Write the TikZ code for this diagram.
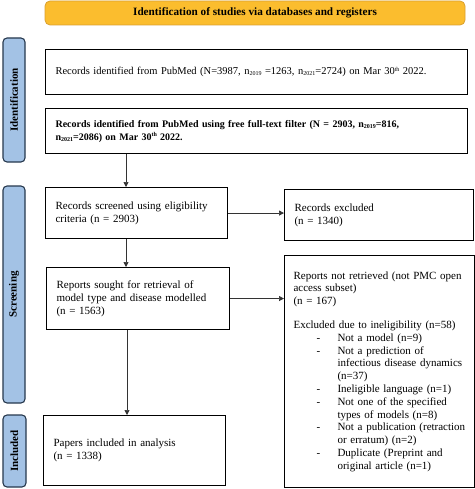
\documentclass[tikz,border=0pt]{standalone}
\usepackage{fontspec}
\setmainfont{Liberation Serif}
\usetikzlibrary{arrows.meta,positioning}
\definecolor{bannerfill}{HTML}{FBBD2E}
\definecolor{bannerdraw}{HTML}{D9A030}
\definecolor{sidefill}{HTML}{A3C2E5}
\definecolor{sidedraw}{HTML}{26384D}
\definecolor{arrowc}{HTML}{333333}
\newcommand\itm[1]{\makebox[44pt][l]{\hspace{23pt}-}#1}
\newcommand\cnt[1]{\hspace*{44pt}#1}
\newcommand\sbs[1]{\raisebox{-1.2pt}{\fontsize{6}{7}\selectfont #1}}
\newcommand\sps[1]{\raisebox{3.5pt}{\fontsize{6}{7}\selectfont #1}}
\tikzset{
  stagebox/.style={draw=black, line width=1.1pt, fill=white, anchor=north west,
    inner xsep=9pt, inner ysep=2pt, align=left,
    font=\fontsize{11}{12.8}\selectfont},
  sidebox/.style={draw=sidedraw, line width=1.1pt, fill=sidefill, rounded corners=4pt,
    rotate=90, inner sep=0pt, font=\fontsize{11}{13}\selectfont\bfseries},
  banner/.style={draw=bannerdraw, line width=0.8pt, fill=bannerfill, rounded corners=5pt,
    inner sep=0pt, font=\fontsize{11.2}{13}\selectfont\bfseries},
  arr/.style={draw=arrowc, line width=0.7pt, -{Triangle[length=5pt,width=5pt]}}
}
\begin{document}
\begin{tikzpicture}[x=1pt,y=-1pt]
\useasboundingbox (0,0) rectangle (474,489);
% banner
\node[banner, minimum width=420, minimum height=24] (ban) at (255,13) {Identification of studies via databases and registers};
% side labels
\node[sidebox, minimum width=124, minimum height=22] (sid) at (14,100) {Identification};
\node[sidebox, minimum width=217, minimum height=22] (ssc) at (14,294.5) {Screening};
\node[sidebox, minimum width=72, minimum height=23] (sin) at (14.5,451) {Included};
% identification boxes
\node[stagebox, minimum width=422, minimum height=45, text width=402, font=\fontsize{10.5}{12.8}\selectfont] (b1) at (45,49)
  {Records identified from PubMed (N=3987, n\sbs{2019} =1263, n\sbs{2021}=2724) on Mar 30\sps{th} 2022.};
\node[stagebox, minimum width=422, minimum height=45, text width=402, font=\fontsize{10}{13}\selectfont\bfseries] (b2) at (45,108)
  {Records identified from PubMed using free full-text filter (N = 2903, n\sbs{2019}=816,\\
   n\sbs{2021}=2086) on Mar 30\sps{th} 2022.};
% screening
\node[stagebox, minimum width=182, minimum height=51, text width=162] (b3) at (45,187)
  {Records screened using eligibility\\ criteria (n = 2903)};
\node[stagebox, minimum width=189, minimum height=51, text width=169] (ex1) at (284,189)
  {Records excluded\\ (n = 1340)};
\node[stagebox, minimum width=183, minimum height=62, text width=163] (b4) at (46,267)
  {Reports sought for retrieval of\\ model type and disease modelled\\ (n = 1563)};
\node[stagebox, minimum width=189, minimum height=232, text width=172] (ex2) at (284,255)
  {Reports not retrieved (not PMC open\\ access subset)\\ (n = 167)\\[11pt]
   Excluded due to ineligibility (n=58)\\
   \itm{Not a model (n=9)}\\
   \itm{Not a prediction of}\\
   \cnt{infectious disease dynamics}\\
   \cnt{(n=37)}\\
   \itm{Ineligible language (n=1)}\\
   \itm{Not one of the specified}\\
   \cnt{types of models (n=8)}\\
   \itm{Not a publication (retraction}\\
   \cnt{or erratum) (n=2)}\\
   \itm{Duplicate (Preprint and}\\
   \cnt{original article (n=1)}};
% included
\node[stagebox, minimum width=182, minimum height=70, text width=162] (b5) at (43,415)
  {Papers included in analysis\\ (n = 1338)\\[9pt]};
% connectors
\coordinate (ax) at (126,0);
\coordinate (bx) at (127,0);
\draw[arr] (b2.south -| ax) -- (b3.north -| ax);
\draw[arr] (b3.south -| ax) -- (b4.north -| ax);
\draw[arr] (b4.south -| bx) -- (b5.north -| bx);
\draw[arr] (b3.east) -- (ex1.west |- b3.east);
\draw[arr] (b4.east) -- (ex2.west |- b4.east);
\end{tikzpicture}
\end{document}
